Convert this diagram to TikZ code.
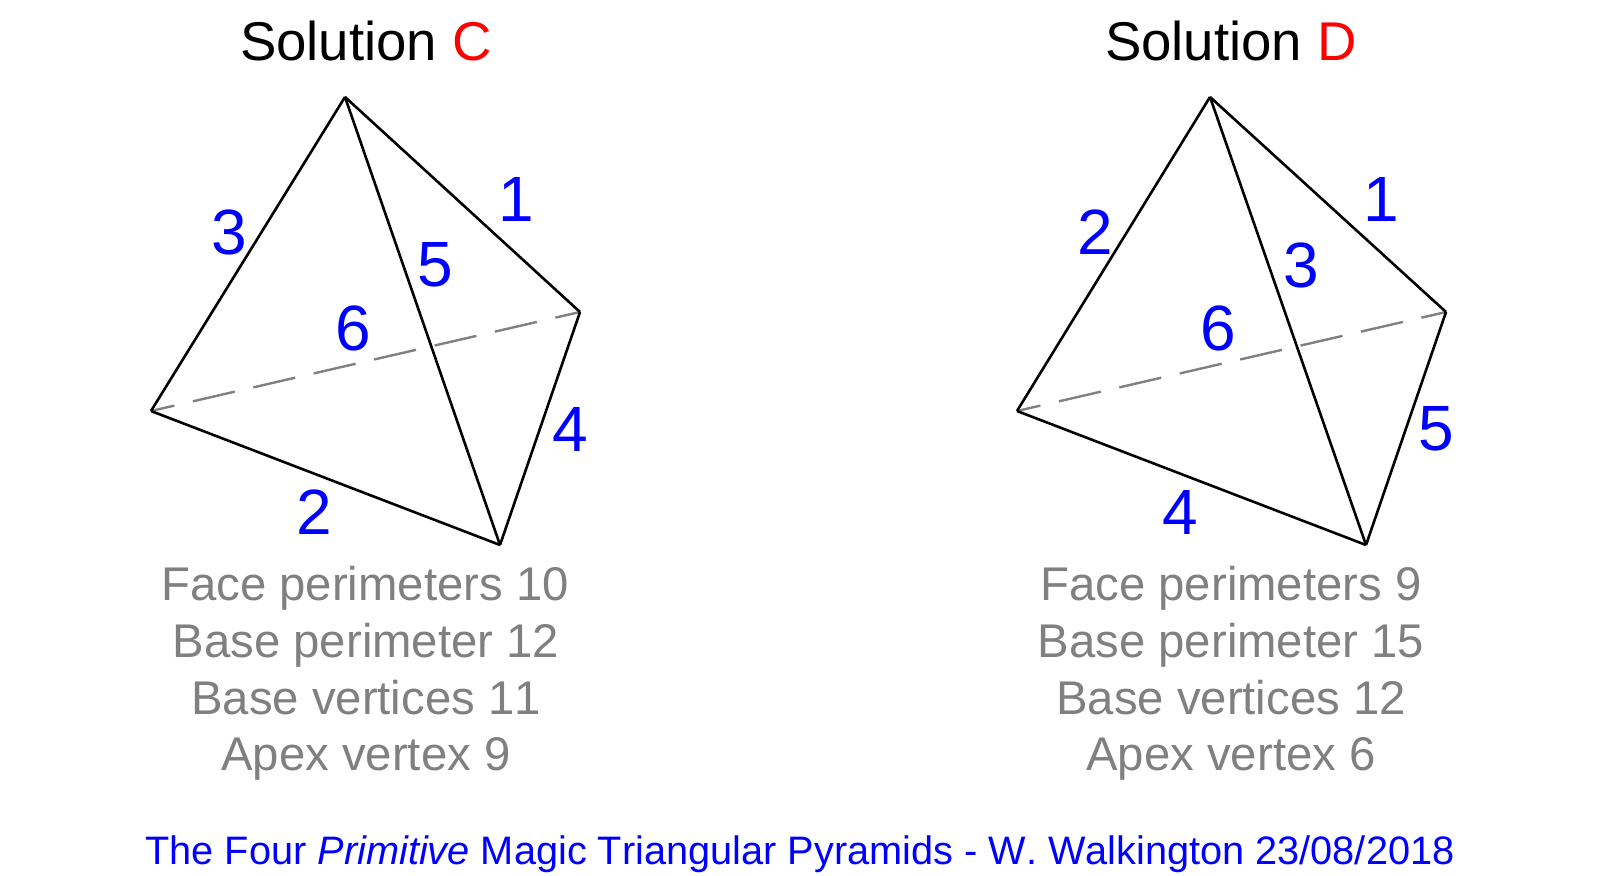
\documentclass[tikz,border=0pt]{standalone}
\usepackage{fontspec}
\setmainfont[Kerning=Off]{Liberation Sans}
\definecolor{edgegrey}{RGB}{128,128,128}
\tikzset{
  edgeline/.style={line width=1.3pt},
  hiddenline/.style={edgegrey,line width=1.2pt,dash pattern=on 21.5pt off 9.5pt,dash phase=9.5pt},
  edgenum/.style={text=blue,font=\fontsize{32}{32}\selectfont},
  headline/.style={font=\fontsize{27.3}{27.3}\selectfont},
  infoline/.style={text=edgegrey,anchor=base,font=\fontsize{23.65}{23.65}\selectfont},
}
\begin{document}
\begin{tikzpicture}[x=0.5pt,y=-0.5pt]
  \useasboundingbox (0,0) rectangle (1600,876);
  % left pyramid
  \coordinate (apexC) at (345,97);
  \coordinate (leftC) at (151,411);
  \coordinate (rightC) at (580,312);
  \coordinate (baseC) at (500,545);
  \draw [hiddenline] (leftC)--(rightC);
  \draw [edgeline] (apexC)--(leftC);
  \draw [edgeline] (apexC)--(rightC);
  \draw [edgeline] (apexC)--(baseC);
  \draw [edgeline] (leftC)--(baseC);
  \draw [edgeline] (rightC)--(baseC);
  \node [headline] (titleC) at (366,41) {Solution \textcolor{red}{C}};
  \node [edgenum] (numC1) at (516,199) {1};
  \node [edgenum] (numC2) at (314,512) {2};
  \node [edgenum] (numC3) at (229,232) {3};
  \node [edgenum] (numC4) at (570,429) {4};
  \node [edgenum] (numC5) at (435,265) {5};
  \node [edgenum] (numC6) at (353,328) {6};
  \node [infoline] (infoC1) at (365,600) {Face perimeters 10};
  \node [infoline] (infoC2) at (366,657) {Base perimeter 12};
  \node [infoline] (infoC3) at (366,714) {Base vertices 11};
  \node [infoline] (infoC4) at (366,770) {Apex vertex 9};
  % right pyramid
  \coordinate (apexD) at (1210,97);
  \coordinate (leftD) at (1017,411);
  \coordinate (rightD) at (1446,312);
  \coordinate (baseD) at (1366,545);
  \draw [hiddenline] (leftD)--(rightD);
  \draw [edgeline] (apexD)--(leftD);
  \draw [edgeline] (apexD)--(rightD);
  \draw [edgeline] (apexD)--(baseD);
  \draw [edgeline] (leftD)--(baseD);
  \draw [edgeline] (rightD)--(baseD);
  \node [headline] (titleD) at (1231,41) {Solution \textcolor{red}{D}};
  \node [edgenum] (numD1) at (1381,199) {1};
  \node [edgenum] (numD2) at (1095,232) {2};
  \node [edgenum] (numD3) at (1301,265) {3};
  \node [edgenum] (numD4) at (1180,512) {4};
  \node [edgenum] (numD5) at (1436,429) {5};
  \node [edgenum] (numD6) at (1218,328) {6};
  \node [infoline] (infoD1) at (1231,600) {Face perimeters 9};
  \node [infoline] (infoD2) at (1231,657) {Base perimeter 15};
  \node [infoline] (infoD3) at (1231,714) {Base vertices 12};
  \node [infoline] (infoD4) at (1231,770) {Apex vertex 6};
  % caption
  \node [text=blue,font=\fontsize{19.86}{19.86}\selectfont] (caption) at (800,854) {The Four \textit{Primitive} Magic Triangular Pyramids - W. Walkington 23/08/2018};
\end{tikzpicture}
\end{document}
